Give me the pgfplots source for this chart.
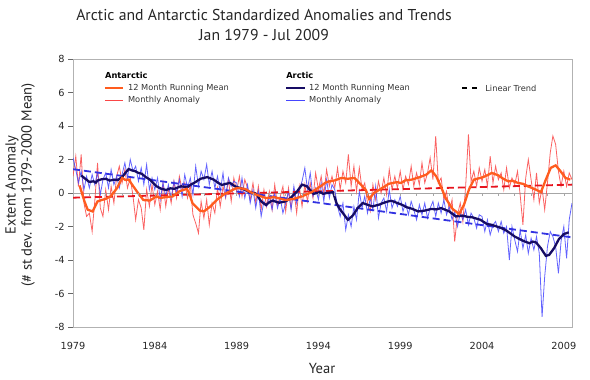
\documentclass[border=0pt]{standalone}
\usepackage{fontspec}
\setmainfont{DejaVu Sans}
\newfontfamily\ptsans{PT Sans}
\usepackage{pgfplots}
\pgfplotsset{compat=1.18}
\definecolor{antMean}{RGB}{255,92,30}
\definecolor{antMon}{RGB}{250,70,70}
\definecolor{arcMean}{RGB}{22,12,100}
\definecolor{arcMon}{RGB}{70,70,255}
\definecolor{antTrend}{RGB}{230,20,30}
\definecolor{arcTrend}{RGB}{50,50,225}
\begin{document}
\begin{tikzpicture}
\useasboundingbox (-73bp,-53bp) rectangle (517bp,327bp);
\begin{axis}[
  at={(0,0)}, anchor=south west,
  scale only axis, width=499bp, height=268bp,
  xmin=1979, xmax=2009.5, ymin=-8, ymax=8,
  xtick={1979,1984,...,2009}, ytick={-8,-6,...,8},
  axis line style={gray!60, line width=0.7pt},
  x tick style={draw=none},
  y tick style={gray!80!black, line width=0.7pt},
  ytick pos=left,
  tick align=outside, major tick length=5bp,
  tick label style={font=\fontsize{9.8}{11}\selectfont, text=black!85},
  /pgf/number format/assume math mode=true,
  /pgf/number format/1000 sep={},
  xticklabel style={yshift=-7bp},
]
% zero line with yearly ticks
\addplot[gray!70, line width=0.7pt, forget plot] coordinates {(1979,0) (2009.5,0)};
\addplot[only marks, mark=|, mark size=1.6bp, gray!70, mark options={line width=0.6pt, yshift=-1.6bp}, forget plot] coordinates {
(1980,0)(1981,0)(1982,0)(1983,0)(1984,0)(1985,0)(1986,0)(1987,0)(1988,0)(1989,0)(1990,0)(1991,0)(1992,0)(1993,0)(1994,0)(1995,0)(1996,0)(1997,0)(1998,0)(1999,0)(2000,0)(2001,0)(2002,0)(2003,0)(2004,0)(2005,0)(2006,0)(2007,0)(2008,0)(2009,0)};
% Antarctic monthly anomaly
\addplot[antMon, line width=0.8pt, opacity=0.85] coordinates {
(1979.0,1.0)(1979.17,2.2)(1979.33,0.4)(1979.5,2.3)(1979.67,-0.6)(1979.83,-1.4)
(1980.0,-1.2)(1980.17,-2.3)(1980.33,-0.5)(1980.5,1.8)(1980.67,-0.9)(1980.83,-1.4)
(1981.0,0.2)(1981.17,-1.0)(1981.33,0.4)(1981.5,-0.6)(1981.67,1.0)(1981.83,1.6)
(1982.0,0.6)(1982.17,1.4)(1982.33,0.3)(1982.5,0.9)(1982.67,-0.2)(1982.83,-1.6)
(1983.0,-0.4)(1983.17,-0.9)(1983.33,-2.2)(1983.5,0.2)(1983.67,-0.8)(1983.83,0.5)
(1984.0,-0.7)(1984.17,0.1)(1984.33,-1.0)(1984.5,0.6)(1984.67,-0.8)(1984.83,0.3)
(1985.0,-0.6)(1985.17,0.7)(1985.33,-0.3)(1985.5,1.0)(1985.67,0.2)(1985.83,0.6)
(1986.0,-0.3)(1986.17,0.5)(1986.33,-1.3)(1986.5,-1.8)(1986.67,-2.4)(1986.83,-0.5)
(1987.0,-1.5)(1987.17,-0.4)(1987.33,-1.9)(1987.5,-0.6)(1987.67,-1.2)(1987.83,0.3)
(1988.0,-0.8)(1988.17,0.4)(1988.33,-0.3)(1988.5,0.8)(1988.67,-0.5)(1988.83,0.9)
(1989.0,0.1)(1989.17,1.0)(1989.33,-0.2)(1989.5,0.8)(1989.67,0.3)(1989.83,-0.4)
(1990.0,0.6)(1990.17,-0.6)(1990.33,0.4)(1990.5,-1.0)(1990.67,0.2)(1990.83,-0.8)
(1991.0,0.1)(1991.17,-1.0)(1991.33,0.5)(1991.5,-0.7)(1991.67,-0.2)(1991.83,0.4)
(1992.0,-1.1)(1992.17,0.3)(1992.33,-0.9)(1992.5,0.2)(1992.67,-1.2)(1992.83,0.4)
(1993.0,-0.8)(1993.17,0.5)(1993.33,-0.5)(1993.5,0.6)(1993.67,-0.3)(1993.83,1.2)
(1994.0,0.2)(1994.17,1.0)(1994.33,-0.1)(1994.5,1.4)(1994.67,0.4)(1994.83,1.0)
(1995.0,0.3)(1995.17,1.5)(1995.33,0.2)(1995.5,1.3)(1995.67,0.6)(1995.83,2.3)
(1996.0,0.4)(1996.17,1.6)(1996.33,0.1)(1996.5,1.5)(1996.67,0.2)(1996.83,0.6)
(1997.0,-0.6)(1997.17,-1.1)(1997.33,0.5)(1997.5,-0.4)(1997.67,0.7)(1997.83,0.0)
(1998.0,0.9)(1998.17,-0.1)(1998.33,1.4)(1998.5,0.2)(1998.67,1.0)(1998.83,0.3)
(1999.0,1.3)(1999.17,0.2)(1999.33,1.0)(1999.5,0.5)(1999.67,1.6)(1999.83,0.4)
(2000.0,1.2)(2000.17,0.5)(2000.33,1.8)(2000.5,0.6)(2000.67,1.2)(2000.83,2.1)
(2001.0,0.8)(2001.17,3.4)(2001.33,0.6)(2001.5,0.9)(2001.67,-0.4)(2001.83,0.1)
(2002.0,-1.1)(2002.17,-0.4)(2002.33,-2.9)(2002.5,-1.3)(2002.67,-0.6)(2002.83,-1.7)
(2003.0,0.4)(2003.17,3.5)(2003.33,0.7)(2003.5,1.3)(2003.67,0.4)(2003.83,1.5)
(2004.0,0.7)(2004.17,1.4)(2004.33,0.4)(2004.5,2.2)(2004.67,0.6)(2004.83,1.6)
(2005.0,0.8)(2005.17,1.2)(2005.33,0.2)(2005.5,1.5)(2005.67,0.3)(2005.83,0.9)
(2006.0,0.5)(2006.17,1.3)(2006.33,-0.1)(2006.5,-1.9)(2006.67,0.9)(2006.83,2.0)
(2007.0,0.8)(2007.17,-0.4)(2007.33,1.2)(2007.5,-0.6)(2007.67,0.3)(2007.83,-1.0)
(2008.0,0.6)(2008.17,2.4)(2008.33,3.4)(2008.5,2.9)(2008.67,1.3)(2008.83,0.4)
(2009.0,1.3)(2009.17,0.4)(2009.33,1.2)(2009.5,0.8)};
% Arctic monthly anomaly
\addplot[arcMon, line width=0.8pt, opacity=0.85] coordinates {
(1979.0,2.1)(1979.17,1.4)(1979.33,0.6)(1979.5,1.3)(1979.67,0.2)(1979.83,1.0)
(1980.0,0.3)(1980.17,1.1)(1980.33,0.5)(1980.5,1.2)(1980.67,-0.1)(1980.83,0.8)
(1981.0,1.2)(1981.17,0.3)(1981.33,1.4)(1981.5,0.5)(1981.67,1.0)(1981.83,0.3)
(1982.0,1.1)(1982.17,1.8)(1982.33,0.9)(1982.5,2.0)(1982.67,1.3)(1982.83,1.6)
(1983.0,0.7)(1983.17,1.5)(1983.33,0.5)(1983.5,1.7)(1983.67,0.2)(1983.83,0.9)
(1984.0,0.2)(1984.17,0.9)(1984.33,-0.4)(1984.5,0.6)(1984.67,-0.2)(1984.83,0.5)
(1985.0,-0.3)(1985.17,0.7)(1985.33,0.0)(1985.5,0.8)(1985.67,-0.2)(1985.83,1.1)
(1986.0,0.3)(1986.17,0.9)(1986.33,-0.1)(1986.5,1.6)(1986.67,0.4)(1986.83,1.3)
(1987.0,0.8)(1987.17,1.7)(1987.33,0.5)(1987.5,1.3)(1987.67,0.3)(1987.83,1.0)
(1988.0,0.1)(1988.17,1.2)(1988.33,-0.2)(1988.5,0.9)(1988.67,0.4)(1988.83,0.7)
(1989.0,0.6)(1989.17,-0.2)(1989.33,0.9)(1989.5,-0.3)(1989.67,0.5)(1989.83,-0.6)
(1990.0,0.2)(1990.17,-0.9)(1990.33,0.1)(1990.5,-1.4)(1990.67,-0.5)(1990.83,-0.8)
(1991.0,-0.2)(1991.17,-1.0)(1991.33,0.0)(1991.5,-0.9)(1991.67,-0.3)(1991.83,-1.2)
(1992.0,-0.6)(1992.17,0.1)(1992.33,-1.0)(1992.5,0.4)(1992.67,-0.6)(1992.83,0.2)
(1993.0,0.7)(1993.17,1.5)(1993.33,0.2)(1993.5,1.2)(1993.67,-0.2)(1993.83,0.3)
(1994.0,-0.4)(1994.17,0.6)(1994.33,-0.5)(1994.5,0.8)(1994.67,-0.3)(1994.83,0.5)
(1995.0,0.2)(1995.17,-0.8)(1995.33,-1.4)(1995.5,-0.6)(1995.67,-2.2)(1995.83,-1.3)
(1996.0,-2.0)(1996.17,-0.8)(1996.33,-1.6)(1996.5,0.1)(1996.67,-0.9)(1996.83,-0.2)
(1997.0,-1.2)(1997.17,-0.3)(1997.33,-1.0)(1997.5,0.4)(1997.67,-1.5)(1997.83,-0.6)
(1998.0,-0.3)(1998.17,-1.1)(1998.33,0.2)(1998.5,-0.9)(1998.67,-0.4)(1998.83,-0.8)
(1999.0,-0.2)(1999.17,-1.1)(1999.33,-0.6)(1999.5,-1.3)(1999.67,-0.5)(1999.83,-1.0)
(2000.0,-1.6)(2000.17,-0.7)(2000.33,-1.3)(2000.5,-0.6)(2000.67,-1.5)(2000.83,-0.9)
(2001.0,-0.5)(2001.17,-1.4)(2001.33,-0.6)(2001.5,-1.2)(2001.67,-0.4)(2001.83,-1.3)
(2002.0,-0.8)(2002.17,-1.6)(2002.33,-1.1)(2002.5,-2.0)(2002.67,-1.2)(2002.83,-1.6)
(2003.0,-1.0)(2003.17,-1.9)(2003.33,-1.2)(2003.5,-1.5)(2003.67,-2.1)(2003.83,-1.3)
(2004.0,-1.4)(2004.17,-2.3)(2004.33,-1.6)(2004.5,-2.5)(2004.67,-1.9)(2004.83,-1.7)
(2005.0,-2.3)(2005.17,-1.7)(2005.33,-2.4)(2005.5,-2.0)(2005.67,-4.0)(2005.83,-2.0)
(2006.0,-2.8)(2006.17,-3.5)(2006.33,-2.2)(2006.5,-3.3)(2006.67,-2.5)(2006.83,-3.6)
(2007.0,-2.7)(2007.17,-3.4)(2007.33,-2.6)(2007.5,-3.6)(2007.67,-7.4)(2007.83,-5.0)
(2008.0,-3.2)(2008.17,-2.3)(2008.33,-2.6)(2008.5,-3.2)(2008.67,-4.8)(2008.83,-2.9)
(2009.0,-2.0)(2009.17,-3.9)(2009.33,-1.6)(2009.5,-0.6)};
% Linear trends
\addplot[antTrend, line width=1.8pt, dash pattern=on 7bp off 4bp] coordinates {(1979,-0.28) (2009.5,0.5)};
\addplot[arcTrend, line width=1.8pt, dash pattern=on 7bp off 4bp] coordinates {(1979,1.42) (2009.5,-2.65)};
% Arctic 12 month running mean
\addplot[arcMean, line width=2.3pt] coordinates {
(1979.5,1.05)(1979.75,0.85)(1980.0,0.66)(1980.25,0.7)(1980.4,0.62)(1980.5,0.75)(1980.75,0.82)(1981.0,0.85)(1981.25,0.74)(1981.5,0.8)(1981.75,0.78)(1982.0,0.95)(1982.2,1.2)(1982.4,1.43)(1982.6,1.35)(1982.8,1.3)(1983.0,1.2)(1983.2,1.15)(1983.45,0.95)(1983.7,0.8)(1984.1,0.4)(1984.4,0.25)(1984.7,0.18)(1984.95,0.28)(1985.2,0.25)(1985.6,0.4)(1986.0,0.35)(1986.2,0.5)(1986.4,0.6)(1986.8,0.85)(1987.2,0.95)(1987.6,0.8)(1987.85,0.62)(1988.1,0.48)(1988.35,0.55)(1988.6,0.6)(1988.9,0.4)(1989.2,0.3)(1989.5,0.2)(1989.8,0.06)(1990.2,-0.05)(1990.5,-0.5)(1990.8,-0.72)(1991.0,-0.55)(1991.2,-0.45)(1991.4,-0.52)(1991.6,-0.58)(1992.0,-0.5)(1992.3,-0.3)(1992.7,0.1)(1993.0,0.5)(1993.3,0.4)(1993.7,-0.05)(1994.1,0.05)(1994.3,-0.05)(1994.5,0.0)(1994.9,0.05)(1995.1,-0.6)(1995.3,-0.95)(1995.5,-1.2)(1995.8,-1.6)(1996.1,-1.35)(1996.4,-0.9)(1996.7,-0.6)(1997.0,-0.7)(1997.3,-0.8)(1997.7,-0.7)(1997.95,-0.6)(1998.2,-0.52)(1998.45,-0.46)(1998.7,-0.55)(1999.1,-0.7)(1999.4,-0.85)(1999.75,-0.95)(2000.1,-1.1)(2000.5,-1.05)(2000.9,-0.95)(2001.2,-0.98)(2001.5,-0.9)(2002.0,-1.1)(2002.4,-1.4)(2002.8,-1.35)(2003.1,-1.42)(2003.4,-1.45)(2003.9,-1.6)(2004.3,-1.85)(2004.6,-1.9)(2004.9,-2.0)(2005.2,-2.1)(2005.5,-2.25)(2006.0,-2.6)(2006.5,-2.85)(2006.9,-3.0)(2007.1,-2.9)(2007.3,-2.95)(2007.6,-3.3)(2007.9,-3.75)(2008.1,-3.7)(2008.4,-3.3)(2008.7,-2.75)(2009.0,-2.45)(2009.3,-2.35)};
% Antarctic 12 month running mean
\addplot[antMean, line width=2.3pt] coordinates {
(1979.4,0.45)(1979.7,-0.5)(1979.9,-1.0)(1980.2,-1.1)(1980.5,-0.5)(1980.75,-0.42)(1981.0,-0.35)(1981.3,-0.2)(1981.7,0.3)(1982.0,0.9)(1982.2,0.78)(1982.4,0.8)(1982.9,0.1)(1983.3,-0.42)(1983.7,-0.45)(1984.1,-0.2)(1984.35,-0.3)(1984.6,-0.25)(1985.1,-0.2)(1985.5,0.1)(1985.95,0.25)(1986.1,0.0)(1986.3,-0.6)(1986.75,-1.05)(1987.0,-1.1)(1987.35,-0.84)(1987.8,-0.4)(1988.2,-0.1)(1988.6,0.1)(1989.0,0.3)(1989.5,0.25)(1989.85,0.05)(1990.2,-0.1)(1990.8,-0.3)(1991.3,-0.25)(1991.65,-0.33)(1992.0,-0.42)(1992.5,-0.35)(1993.0,-0.2)(1993.6,0.06)(1994.05,0.35)(1994.5,0.66)(1995.0,0.75)(1995.4,0.9)(1995.8,0.85)(1996.2,0.9)(1996.6,0.5)(1996.9,0.18)(1997.1,-0.35)(1997.4,0.0)(1997.9,0.3)(1998.3,0.55)(1998.8,0.65)(1999.05,0.6)(1999.3,0.75)(1999.7,0.8)(2000.2,0.95)(2000.6,1.1)(2000.9,1.35)(2001.2,1.0)(2001.5,0.35)(2001.8,-0.35)(2002.2,-0.95)(2002.6,-1.25)(2002.9,-0.7)(2003.2,0.2)(2003.5,0.8)(2003.9,0.9)(2004.15,0.98)(2004.4,1.1)(2004.6,1.2)(2005.0,1.05)(2005.3,0.85)(2005.6,0.7)(2005.9,0.72)(2006.2,0.6)(2006.5,0.55)(2006.8,0.4)(2007.3,0.2)(2007.6,0.05)(2007.9,0.8)(2008.2,1.5)(2008.5,1.65)(2008.8,1.3)(2009.1,0.9)(2009.4,0.8)};
% legend
\begin{scope}[every node/.style={anchor=west, inner sep=0pt, font=\fontsize{8.3}{10}\selectfont, text=black!80}]
\node[font=\fontsize{8.3}{10}\selectfont\bfseries, text=black] at (axis description cs:0.064,0.938) {Antarctic};
\draw[antMean, line width=2.2pt] (axis description cs:0.064,0.891) -- (axis description cs:0.100,0.891);
\node at (axis description cs:0.110,0.891) {12 Month Running Mean};
\draw[antMon, line width=0.9pt] (axis description cs:0.064,0.847) -- (axis description cs:0.100,0.847);
\node at (axis description cs:0.110,0.847) {Monthly Anomaly};
\node[font=\fontsize{8.3}{10}\selectfont\bfseries, text=black] at (axis description cs:0.427,0.938) {Arctic};
\draw[arcMean, line width=2.2pt] (axis description cs:0.427,0.891) -- (axis description cs:0.465,0.891);
\node at (axis description cs:0.473,0.891) {12 Month Running Mean};
\draw[arcMon, line width=0.9pt] (axis description cs:0.427,0.847) -- (axis description cs:0.465,0.847);
\node at (axis description cs:0.473,0.847) {Monthly Anomaly};
\draw[black, line width=2pt, dash pattern=on 5bp off 5bp] (axis description cs:0.780,0.891) -- (axis description cs:0.816,0.891);
\node at (axis description cs:0.826,0.891) {Linear Trend};
\end{scope}
\end{axis}
\node[font=\ptsans\fontsize{15.8}{18}\selectfont, text=black!85] at (191bp,312bp) {Arctic and Antarctic Standardized Anomalies and Trends};
\node[font=\ptsans\fontsize{15.8}{18}\selectfont, text=black!85] at (191bp,292bp) {Jan 1979 - Jul 2009};
\node[rotate=90, font=\ptsans\fontsize{14.6}{16}\selectfont, text=black!85] at (-61bp,142bp) {Extent Anomaly};
\node[rotate=90, font=\ptsans\fontsize{14.6}{16}\selectfont, text=black!85] at (-45bp,142bp) {(\# st dev. from 1979-2000 Mean)};
\node[font=\ptsans\fontsize{14.6}{16}\selectfont, text=black!85] at (249bp,-41bp) {Year};
\end{tikzpicture}
\end{document}
